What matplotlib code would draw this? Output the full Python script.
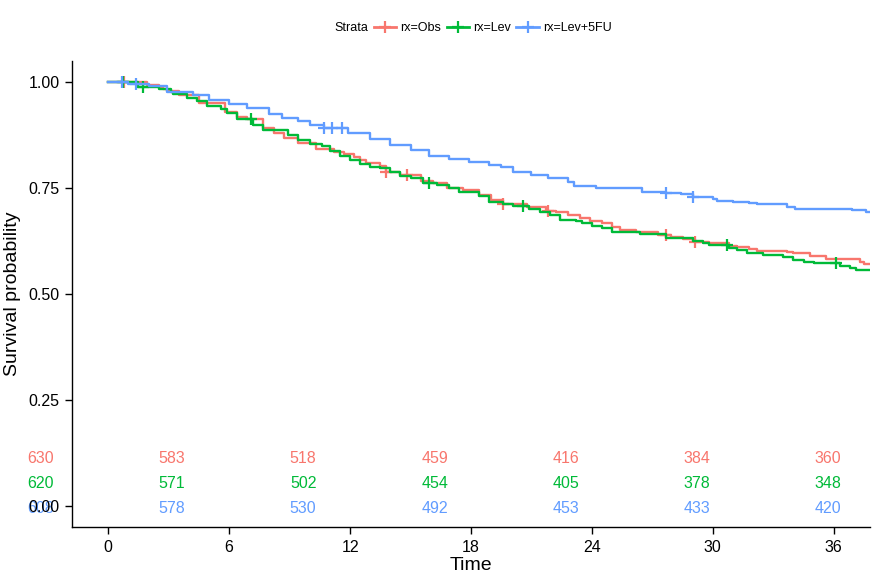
import numpy as np
import matplotlib
matplotlib.use("Agg")
import matplotlib.pyplot as plt
from matplotlib.lines import Line2D

plt.rcParams["font.family"] = ["Liberation Sans", "DejaVu Sans"]

# Kaplan-Meier estimates (time in months)
obs_t = [0, 1.9, 2.5, 2.7, 2.9, 3.5, 4.5, 5.8, 6.4, 6.9, 7.7, 8.2, 8.7, 9.4, 10.3,
         11.2, 11.7, 12.2, 12.5, 12.8, 13.5, 13.8, 14.5, 15.5, 16.1, 16.8, 17.6,
         18.4, 19.0, 19.6, 20.8, 21.7, 22.2, 22.8, 23.4, 23.9, 24.5, 25.0, 25.4,
         26.2, 27.3, 27.9, 28.5, 29.1, 29.8, 30.8, 31.2, 31.8, 32.2, 33.7, 34.0,
         34.8, 35.6, 37.3, 37.5]
obs_s = [1.0, 0.993, 0.988, 0.983, 0.979, 0.970, 0.950, 0.929, 0.917, 0.913, 0.893,
         0.880, 0.868, 0.856, 0.842, 0.835, 0.830, 0.823, 0.816, 0.809, 0.802, 0.788,
         0.781, 0.767, 0.762, 0.750, 0.745, 0.733, 0.722, 0.712, 0.705, 0.696, 0.693,
         0.686, 0.679, 0.672, 0.667, 0.658, 0.651, 0.646, 0.639, 0.635, 0.630, 0.623,
         0.620, 0.613, 0.611, 0.606, 0.601, 0.599, 0.597, 0.590, 0.583, 0.575, 0.571]

lev_t = [0, 1.5, 2.5, 3.1, 3.2, 3.9, 4.4, 4.9, 5.6, 5.9, 6.4, 7.2, 7.7, 8.9, 9.4,
         10.0, 10.6, 11.0, 11.5, 12.0, 12.5, 13.0, 13.5, 14.0, 14.5, 15.0, 15.6,
         16.3, 16.9, 17.4, 18.4, 18.9, 19.6, 20.1, 20.9, 21.4, 21.9, 22.4, 23.2,
         23.5, 24.0, 24.5, 25.0, 26.4, 27.7, 29.0, 29.5, 29.8, 30.8, 31.2, 31.7,
         32.5, 33.5, 34.0, 34.5, 35.0, 36.3, 36.8, 37.1]
lev_s = [1.0, 0.988, 0.983, 0.976, 0.972, 0.962, 0.955, 0.943, 0.936, 0.927, 0.913,
         0.899, 0.887, 0.875, 0.863, 0.854, 0.849, 0.837, 0.825, 0.816, 0.806, 0.800,
         0.797, 0.788, 0.778, 0.774, 0.762, 0.757, 0.750, 0.741, 0.731, 0.717, 0.712,
         0.708, 0.700, 0.693, 0.686, 0.675, 0.672, 0.667, 0.660, 0.656, 0.646, 0.641,
         0.632, 0.625, 0.620, 0.616, 0.608, 0.604, 0.597, 0.592, 0.587, 0.580, 0.575,
         0.573, 0.566, 0.561, 0.557]

fu_t = [0, 1.0, 2.0, 2.9, 4.2, 5.0, 6.0, 6.9, 8.0, 8.6, 9.4, 10.0, 10.7, 11.9, 13.0,
        14.0, 15.0, 15.9, 16.9, 17.9, 18.9, 19.5, 20.1, 21.0, 21.8, 22.8, 23.1,
        24.2, 26.5, 27.7, 28.4, 29.0, 30.0, 30.2, 31.0, 31.8, 32.2, 33.7, 34.1,
        36.9, 37.6]
fu_s = [1.0, 0.995, 0.990, 0.976, 0.970, 0.958, 0.948, 0.939, 0.925, 0.915, 0.908,
        0.900, 0.892, 0.880, 0.866, 0.851, 0.840, 0.825, 0.818, 0.811, 0.805, 0.800,
        0.788, 0.781, 0.773, 0.764, 0.755, 0.750, 0.741, 0.738, 0.736, 0.729, 0.724,
        0.719, 0.717, 0.714, 0.712, 0.705, 0.700, 0.698, 0.693]

# censoring times
obs_cens = [0.8, 13.8, 14.8, 19.6, 21.8, 27.7, 29.1]
lev_cens = [0.75, 1.7, 7.1, 15.9, 20.6, 30.7, 36.1]
fu_cens = [0.7, 1.4, 10.7, 11.1, 11.6, 27.7, 29.0]

# number at risk table
risk_times = [-3.37, 3.15, 9.67, 16.2, 22.7, 29.2, 35.7]
risk_obs = [630, 583, 518, 459, 416, 384, 360]
risk_lev = [620, 571, 502, 454, 405, 378, 348]
risk_fu = [608, 578, 530, 492, 453, 433, 420]

labels = ["rx=Obs", "rx=Lev", "rx=Lev+5FU"]
colors = ["#F8766D", "#00BA38", "#619CFF"]

xmax = 37.8

fig = plt.figure(figsize=(8.79, 5.78), dpi=100)
ax = fig.add_axes([72 / 879, 1 - 527 / 578, (870 - 72) / 879, (527 - 61) / 578])

curves = [(obs_t, obs_s, obs_cens), (lev_t, lev_s, lev_cens), (fu_t, fu_s, fu_cens)]
for (t, s, cens), col in zip(curves, colors):
    t = np.array(t + [xmax + 1])
    s = np.array(s + [s[-1]])
    ax.plot(t, s, drawstyle="steps-post", color=col, lw=1.7, zorder=3)
    idx = np.searchsorted(t, cens, side="right") - 1
    ax.plot(cens, s[idx], ls="none", marker="+", ms=9, mew=1.6, color=col, zorder=3)

for row, y, col in zip([risk_obs, risk_lev, risk_fu], [0.112, 0.052, -0.007], colors):
    for x, n in zip(risk_times, row):
        ax.text(x, y, str(n), color=col, fontsize=11.5, ha="center", va="center",
                clip_on=False, zorder=1)

ax.set_xlim(-1.8, xmax)
ax.set_ylim(-0.05, 1.05)
ax.set_xticks(range(0, 37, 6))
ax.set_yticks([0, 0.25, 0.5, 0.75, 1.0])
ax.set_yticklabels(["0.00", "0.25", "0.50", "0.75", "1.00"])
ax.tick_params(labelsize=11.5, length=5, width=1, colors="black", pad=4)
for sp in ["top", "right"]:
    ax.spines[sp].set_visible(False)
for sp in ["left", "bottom"]:
    ax.spines[sp].set_linewidth(1)
ax.set_xlabel("Time", fontsize=14, labelpad=2)
ax.set_ylabel("Survival probability", fontsize=14, labelpad=5)

# legend on top
fig.text(334 / 879, 1 - 28 / 578, "Strata", fontsize=9, va="center", ha="left")
handles = [Line2D([], [], color=c, lw=2, marker="+", ms=9, mew=1.6) for c in colors]
fig.legend(handles, labels, loc="center left", bbox_to_anchor=(374 / 879, 1 - 28 / 578),
           ncol=3, frameon=False, fontsize=9, handlelength=1.8, handletextpad=0.3,
           columnspacing=0.45, borderaxespad=0, borderpad=0)

fig.savefig("out.png", dpi=100)
